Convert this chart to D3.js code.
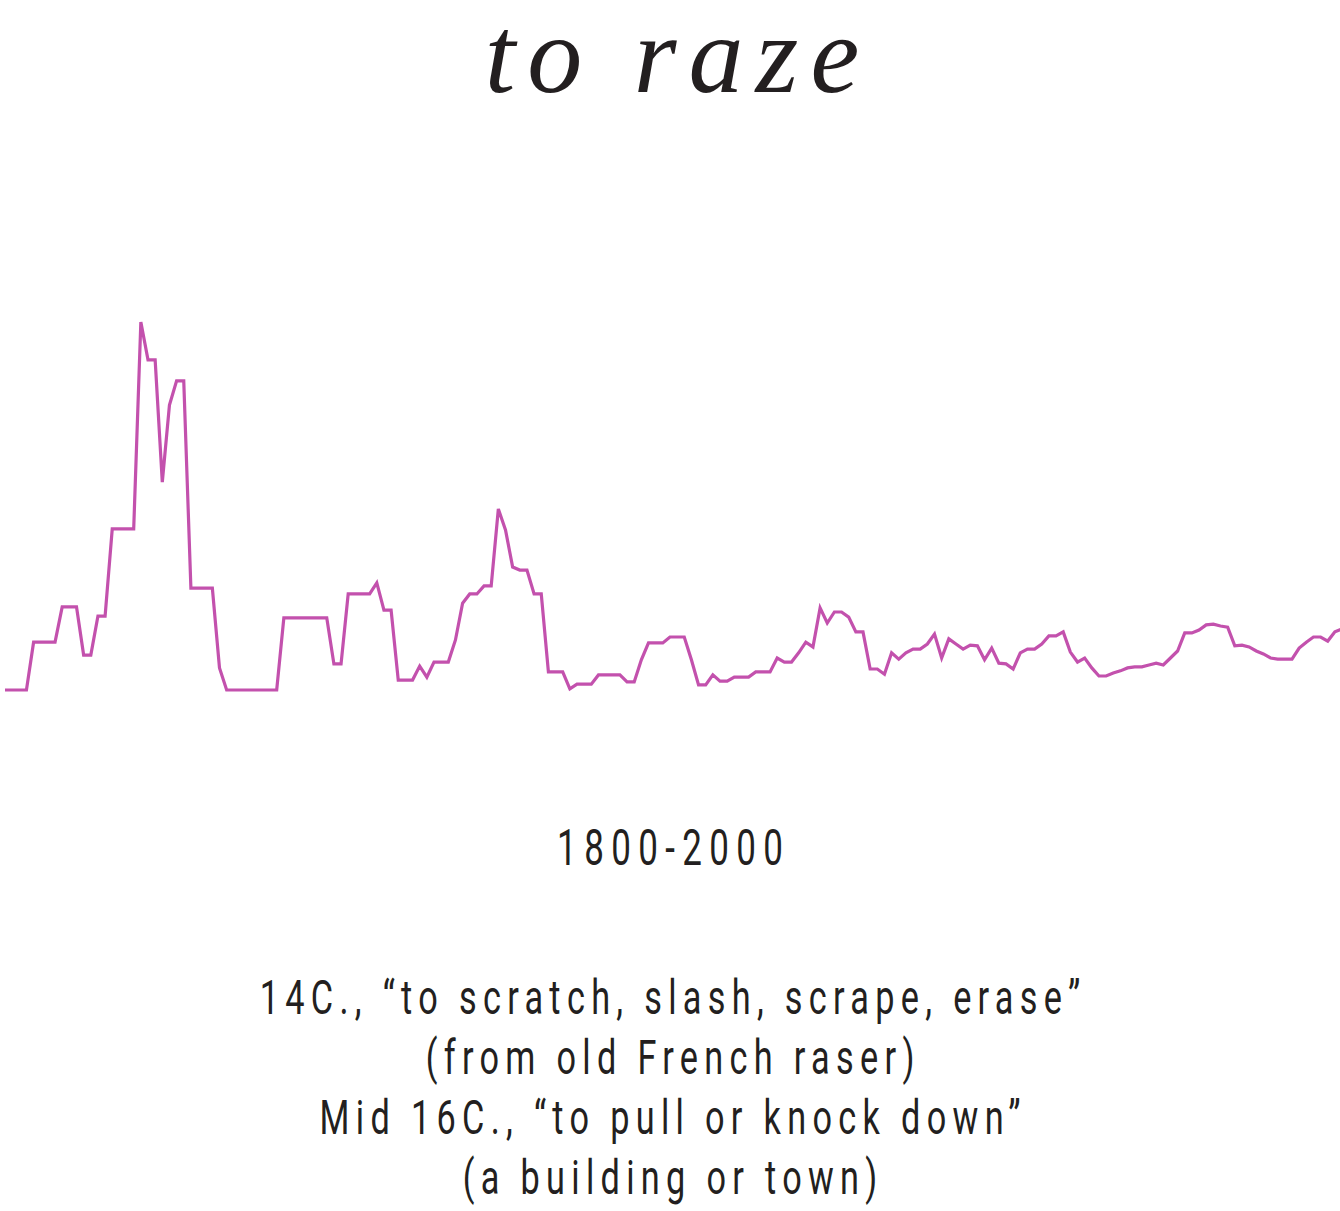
<!DOCTYPE html>
<html>
<head>
<meta charset="utf-8">
<script src="https://cdn.jsdelivr.net/npm/d3@7/dist/d3.min.js"></script>
<style>
  html, body { margin: 0; padding: 0; background: #fff; }
  svg { display: block; }
</style>
</head>
<body>
<svg id="chart" width="1340" height="1211"></svg>
<script>
// ---- data ----
const title = "to raze";
const periodLabel = "1800-2000";
const startYear = 1800;
const endYear = 2000;
// relative frequency (peak = 100), one value per year from 1800
const frequency = [
  0, 0, 0, 0, 13.0, 13.0, 13.0, 13.0, 22.6, 22.6,
  22.6, 9.5, 9.5, 20.1, 20.1, 43.8, 43.8, 43.8, 43.8, 100,
  89.7, 89.7, 56.5, 77.4, 84.0, 84.0, 27.7, 27.7, 27.7, 27.7,
  6.0, 0, 0, 0, 0, 0, 0, 0, 0, 19.6,
  19.6, 19.6, 19.6, 19.6, 19.6, 19.6, 7.1, 7.1, 26.1, 26.1,
  26.1, 26.1, 29.1, 21.7, 21.7, 2.7, 2.7, 2.7, 6.5, 3.5,
  7.6, 7.6, 7.6, 13.6, 23.6, 26.1, 26.1, 28.3, 28.3, 49.2,
  43.5, 33.4, 32.6, 32.6, 26.1, 26.1, 4.9, 4.9, 4.9, 0.3,
  1.6, 1.6, 1.6, 4.1, 4.1, 4.1, 4.1, 2.2, 2.2, 8.2,
  12.8, 12.8, 12.8, 14.4, 14.4, 14.4, 8.2, 1.4, 1.4, 4.1,
  2.4, 2.4, 3.5, 3.5, 3.5, 4.9, 4.9, 4.9, 8.7, 7.6,
  7.6, 10.1, 13.0, 11.7, 22.3, 18.2, 21.2, 21.2, 19.8, 15.8,
  15.8, 5.7, 5.7, 4.3, 10.1, 8.4, 10.1, 11.1, 11.1, 12.5,
  15.2, 8.7, 13.9, 12.5, 11.1, 12.2, 12.0, 8.2, 11.4, 7.3,
  7.1, 5.7, 10.1, 11.1, 11.1, 12.5, 14.7, 14.7, 15.8, 10.3,
  7.6, 8.7, 6.0, 3.8, 3.8, 4.6, 5.2, 6.0, 6.3, 6.3,
  6.8, 7.3, 6.8, 8.7, 10.6, 15.5, 15.5, 16.3, 17.7, 17.9,
  17.4, 17.1, 12.0, 12.2, 11.7, 10.6, 9.8, 8.7, 8.4, 8.4,
  8.4, 11.4, 13.0, 14.4, 14.4, 13.3, 15.8, 16.6
];
const years = frequency.map((_, i) => startYear + i);
const notes = [
  "14C., \u201Cto scratch, slash, scrape, erase\u201D",
  "(from old French raser)",
  "Mid 16C., \u201Cto pull or knock down\u201D",
  "(a building or town)"
];

// ---- drawing ----
const W = 1340, H = 1211;
const svg = d3.select("#chart");

const x = d3.scaleLinear().domain([startYear, endYear]).range([5, 5 + 200 * 7.15]);
const y = d3.scaleLinear().domain([0, 100]).range([690, 322]);

svg.append("defs").append("clipPath").attr("id", "clip")
  .append("rect").attr("x", 0).attr("y", 0).attr("width", W).attr("height", H);

const line = d3.line()
  .x((d, i) => x(years[i]))
  .y(d => y(d));

svg.append("path")
  .datum(frequency)
  .attr("clip-path", "url(#clip)")
  .attr("fill", "none")
  .attr("stroke", "#c351ad")
  .attr("stroke-width", 3.2)
  .attr("stroke-linejoin", "miter")
  .attr("d", line);

svg.append("text")
  .attr("x", W / 2 + 8)
  .attr("y", 92)
  .attr("text-anchor", "middle")
  .attr("font-family", "'Liberation Serif', serif")
  .attr("font-style", "italic")
  .attr("font-size", 110)
  .attr("letter-spacing", "12px")
  .attr("fill", "#231f20")
  .text(title);

const sansFont = "Roboto, 'Liberation Sans', sans-serif";
const squeeze = 0.7;

function condensedText(str, yPos, size, ls) {
  const g = svg.append("g")
    .attr("transform", `translate(${W / 2},${yPos}) scale(${squeeze},1)`);
  g.append("text")
    .attr("x", ls / 2)
    .attr("y", 0)
    .attr("text-anchor", "middle")
    .attr("font-family", sansFont)
    .attr("font-weight", 400)
    .attr("font-size", size)
    .attr("letter-spacing", ls + "px")
    .attr("fill", "#231f20")
    .text(str);
}

condensedText(periodLabel, 865, 50, 10.5);
notes.forEach((n, i) => condensedText(n, 1014 + i * 60, 49, 9));
</script>
</body>
</html>
